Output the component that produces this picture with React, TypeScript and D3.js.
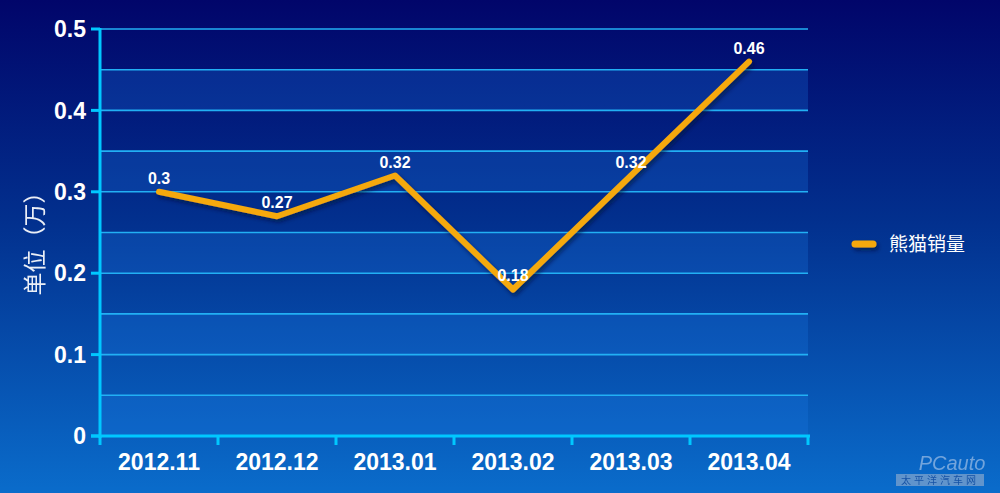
import React from "react";
import * as d3 from "d3";

const categories = ["2012.11", "2012.12", "2013.01", "2013.02", "2013.03", "2013.04"];
const sales = [0.3, 0.27, 0.32, 0.18, 0.32, 0.46];
const yTicks = [0, 0.1, 0.2, 0.3, 0.4, 0.5];
const gridValues = [0.05, 0.1, 0.15, 0.2, 0.25, 0.3, 0.35, 0.4, 0.45, 0.5];
const bandStarts = [0, 0.1, 0.2, 0.3, 0.4];
const seriesName = "熊猫销量";
const yTitle = "单位（万）";

const W = 1000;
const H = 493;
const left = 100;
const right = 808;
const top = 29;
const bottom = 436;

export default function App() {
  const x = d3.scaleBand<string>().domain(categories).range([left, right]);
  const y = d3.scaleLinear().domain([0, 0.5]).range([bottom, top]);
  const line = d3
    .line<number>()
    .x((_, i) => (x(categories[i]) as number) + x.bandwidth() / 2)
    .y((d) => y(d));
  const font = "'Liberation Sans', Arial, sans-serif";
  const axisColor = "#00c8ff";
  const gridColor = "#22b0f4";
  const orange = "#f5a90a";

  return (
    <svg
      width={W}
      height={H}
      style={{ position: "fixed", left: 0, top: 0, display: "block" }}
    >
      <defs>
        <linearGradient id="bg" x1="0" y1="0" x2="0" y2="1">
          <stop offset="0" stopColor="#01056a" />
          <stop offset="0.45" stopColor="#02308e" />
          <stop offset="1" stopColor="#0a6ccb" />
        </linearGradient>
        <filter id="sh" filterUnits="userSpaceOnUse" x="0" y="0" width={W} height={H}>
          <feDropShadow dx="2" dy="3" stdDeviation="2" floodColor="#000a30" floodOpacity="0.6" />
        </filter>
      </defs>
      <rect x={0} y={0} width={W} height={H} fill="url(#bg)" />
      {bandStarts.map((b) => (
        <rect
          key={"b" + b}
          x={left}
          y={y(b + 0.05)}
          width={right - left}
          height={y(b) - y(b + 0.05)}
          fill="#1a7ae6"
          opacity={0.25}
        />
      ))}
      {gridValues.map((g) => (
        <line
          key={"g" + g}
          x1={left}
          x2={right}
          y1={y(g)}
          y2={y(g)}
          stroke={gridColor}
          strokeWidth={1.6}
        />
      ))}
      <line x1={left} x2={left} y1={top - 1} y2={bottom + 2} stroke={axisColor} strokeWidth={3} />
      {yTicks.map((t) => (
        <g key={"yt" + t}>
          <line x1={left - 9} x2={left} y1={y(t)} y2={y(t)} stroke={axisColor} strokeWidth={3} />
          <text
            x={86}
            y={y(t)}
            dy="0.36em"
            textAnchor="end"
            fill="#ffffff"
            fontFamily={font}
            fontWeight="bold"
            fontSize={23}
          >
            {t === 0 ? "0" : t.toString()}
          </text>
        </g>
      ))}
      <line x1={left - 9} x2={right + 2} y1={bottom} y2={bottom} stroke={axisColor} strokeWidth={3} />
      {categories.map((c) => (
        <line
          key={"xt" + c}
          x1={x(c) as number}
          x2={x(c) as number}
          y1={bottom}
          y2={bottom + 9}
          stroke={axisColor}
          strokeWidth={3}
        />
      ))}
      <line x1={right} x2={right} y1={bottom} y2={bottom + 9} stroke={axisColor} strokeWidth={3} />
      {categories.map((c) => (
        <text
          key={"xl" + c}
          x={(x(c) as number) + x.bandwidth() / 2}
          y={470}
          textAnchor="middle"
          fill="#ffffff"
          fontFamily={font}
          fontWeight="bold"
          fontSize={23}
        >
          {c}
        </text>
      ))}
      <text
        transform={`translate(43,238) rotate(-90)`}
        textAnchor="middle"
        fill="#ffffff"
        fontFamily="'Noto Sans CJK SC', sans-serif"
        fontSize={23}
        opacity={0.92}
      >
        {yTitle}
      </text>
      <path
        d={line(sales) || ""}
        fill="none"
        stroke={orange}
        strokeWidth={6}
        strokeLinejoin="round"
        strokeLinecap="round"
        filter="url(#sh)"
      />
      {sales.map((v, i) => (
        <text
          key={"dl" + i}
          x={(x(categories[i]) as number) + x.bandwidth() / 2}
          y={y(v) - 8}
          textAnchor="middle"
          fill="#ffffff"
          fontFamily={font}
          fontWeight="bold"
          fontSize={16}
        >
          {v.toString()}
        </text>
      ))}
      <line
        x1={855}
        x2={873}
        y1={244}
        y2={244}
        stroke={orange}
        strokeWidth={7}
        strokeLinecap="round"
        filter="url(#sh)"
      />
      <text
        x={889}
        y={244}
        dy="0.36em"
        fill="#ffffff"
        fontFamily="'Noto Sans CJK SC', sans-serif"
        fontSize={19}
      >
        {seriesName}
      </text>
      <g opacity={0.55}>
        <text
          x={952}
          y={470}
          textAnchor="middle"
          fill="#c8d8f0"
          fontFamily={font}
          fontStyle="italic"
          fontSize={20}
        >
          PCauto
        </text>
        <rect x={896} y={474} width={88} height={12} fill="#a8b8d0" />
        <text
          x={940}
          y={484}
          textAnchor="middle"
          fill="#20408a"
          fontFamily="'Noto Sans CJK SC', sans-serif"
          fontSize={10}
          letterSpacing={3}
        >
          太平洋汽车网
        </text>
      </g>
    </svg>
  );
}
